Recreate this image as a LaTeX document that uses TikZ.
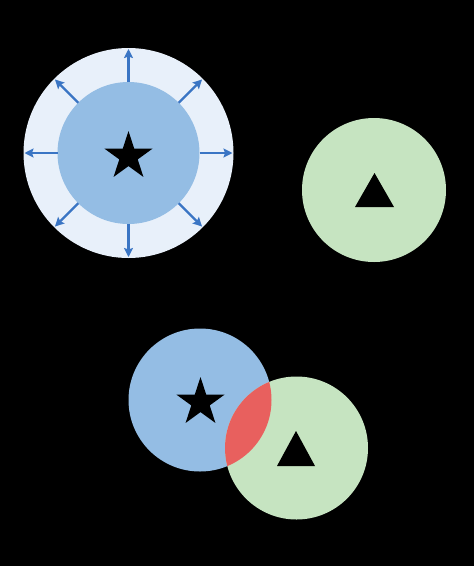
\documentclass[tikz,border=0pt]{standalone}
\usetikzlibrary{arrows.meta,calc}
\definecolor{bgblack}{RGB}{0,0,0}
\definecolor{haloblue}{RGB}{232,240,250}
\definecolor{coreblue}{RGB}{148,189,228}
\definecolor{softgreen}{RGB}{198,228,193}
\definecolor{overlapred}{RGB}{232,96,94}
\definecolor{arrowblue}{RGB}{58,117,196}
\tikzset{
  halo/.style={fill=haloblue, draw=none},
  core/.style={fill=coreblue, draw=none},
  greenc/.style={fill=softgreen, draw=none},
  ray/.style={draw=arrowblue, line width=2.4pt, -{Stealth[length=9pt,width=9pt,inset=1.5pt]}},
  glyph/.style={fill=black, draw=none}
}
\begin{document}
\begin{tikzpicture}[x=1pt,y=-1pt]
\fill[bgblack] (0,0) rectangle (474,566);
\useasboundingbox (0,0) rectangle (474,566);
% top-left expanding circle
\coordinate (c1) at (128.5,153);
\fill[halo] (c1) circle[radius=105];
\fill[core] (c1) circle[radius=71];
\foreach \a in {0,45,...,315}{
  \coordinate (s\a) at ($(c1)+(\a:71)$);
  \coordinate (e\a) at ($(c1)+(\a:104)$);
  \draw[ray] (s\a) -- (e\a);
}
\coordinate (st1) at (128.5,156.4);
\fill[glyph] ($(st1)+(-90:25.4)$)
  \foreach \k in {1,...,9}{ -- ($(st1)+({-90+36*\k}:{mod(\k,2)==1 ? 9.7 : 25.4})$) } -- cycle;
% top-right green circle
\coordinate (c2) at (374,190);
\fill[greenc] (c2) circle[radius=72];
\fill[glyph] (374.5,173) -- (394,207) -- (355,207) -- cycle;
% bottom overlap
\coordinate (c3) at (200,400);
\coordinate (c4) at (296.5,448);
\fill[core] (c3) circle[radius=71.5];
\fill[greenc] (c4) circle[radius=71.5];
\begin{scope}
  \clip (c3) circle[radius=71.5];
  \fill[overlapred] (c4) circle[radius=71.5];
\end{scope}
\coordinate (st2) at (200.5,402.4);
\fill[glyph] ($(st2)+(-90:25.4)$)
  \foreach \k in {1,...,9}{ -- ($(st2)+({-90+36*\k}:{mod(\k,2)==1 ? 9.7 : 25.4})$) } -- cycle;
\fill[glyph] (296,431) -- (315,466) -- (277,466) -- cycle;
\end{tikzpicture}
\end{document}
